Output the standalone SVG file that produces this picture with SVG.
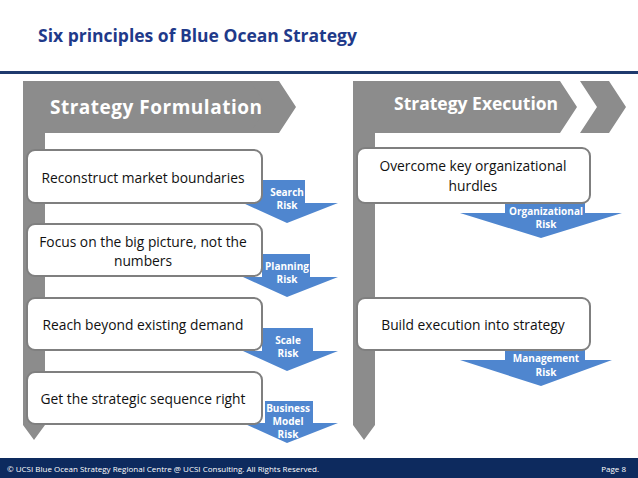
<svg xmlns="http://www.w3.org/2000/svg" width="638" height="478" viewBox="0 0 638 478">
<style>
.bar{fill:#8c8c8c}
.box{fill:#fff;stroke:#7f7f7f;stroke-width:2}
.bt{font-family:"Open Sans","Liberation Sans",sans-serif;font-size:13.8px;fill:#111;text-anchor:middle}
.hd{font-family:"Open Sans","Liberation Sans",sans-serif;font-size:17.5px;font-weight:bold;fill:#fff}
.ar{fill:#4f86cf}
.at{font-family:"Open Sans","Liberation Sans",sans-serif;font-size:10px;font-weight:bold;fill:#fff;text-anchor:middle}
</style>
<rect width="638" height="478" fill="#fff"/>
<text x="38" y="42" font-family="'Open Sans','Liberation Sans',sans-serif" font-size="17.5" font-weight="bold" fill="#1f3a8a">Six principles of Blue Ocean Strategy</text>
<rect x="0" y="71" width="638" height="3" fill="#1f3a6e"/>
<g id="formulation">
<polygon class="bar" points="23,81 260,81 277,107 260,133 45,133 45,425 34,440 23,425"/>
<polygon class="bar" points="250,81 279,81 296,107 279,133 250,133 267,107"/>
<text class="hd" x="50" y="114" style="font-size:19px" textLength="212">Strategy Formulation</text>
</g>
<g id="execution">
<polygon class="bar" points="353,81 560,81 577,107 560,133 375,133 375,425 364,440 353,425"/>
<polygon class="bar" points="580,81 609,81 626,107 609,133 580,133 597,107"/>
<text class="hd" x="394" y="110">Strategy Execution</text>
</g>
<g id="connectors">
<polygon class="ar" points="258,180 305,180 305,203 338,203 287,223 243,203 258,203"/>
<polygon class="ar" points="262,254 310,254 310,277 338,277 287,297 243,277 262,277"/>
<polygon class="ar" points="262,328 313,328 313,351 338,351 287,371 243,351 262,351"/>
<polygon class="ar" points="265,401 313,401 313,423 338,423 287,443 243,423 265,423"/>
<polygon class="ar" points="505,203 585,203 585,213 622,213 541,238 460,213 505,213"/>
<polygon class="ar" points="505,350 585,350 585,360 612,360 541,386 460,360 505,360"/>
</g>
<g id="n1"><rect class="box" x="27" y="150" width="235" height="53" rx="8"/><text class="bt" x="143" y="183">Reconstruct market boundaries</text></g>
<g id="n2"><rect class="box" x="27" y="224" width="235" height="52" rx="8"/><text class="bt" x="143" y="247">Focus on the big picture, not the</text><text class="bt" x="143" y="266">numbers</text></g>
<g id="n3"><rect class="box" x="27" y="298" width="235" height="52" rx="8"/><text class="bt" x="143" y="330">Reach beyond existing demand</text></g>
<g id="n4"><rect class="box" x="27" y="372" width="235" height="52" rx="8"/><text class="bt" x="143" y="404">Get the strategic sequence right</text></g>
<g id="n5"><rect class="box" x="357" y="148" width="233" height="55" rx="8"/><text class="bt" x="473" y="171">Overcome key organizational</text><text class="bt" x="473" y="191">hurdles</text></g>
<g id="n6"><rect class="box" x="357" y="298" width="233" height="52" rx="8"/><text class="bt" x="473" y="330">Build execution into strategy</text></g>
<g id="labels">
<text class="at" x="287" y="196">Search</text><text class="at" x="287" y="209">Risk</text>
<text class="at" x="287" y="270">Planning</text><text class="at" x="287" y="283">Risk</text>
<text class="at" x="288" y="344">Scale</text><text class="at" x="288" y="357">Risk</text>
<text class="at" x="288" y="412">Business</text><text class="at" x="288" y="425">Model</text><text class="at" x="288" y="438">Risk</text>
<text class="at" x="546" y="215">Organizational</text><text class="at" x="546" y="228">Risk</text>
<text class="at" x="546" y="362">Management</text><text class="at" x="546" y="376">Risk</text>
</g>
<rect x="0" y="458" width="638" height="20" fill="#0d2a5e"/>
<text x="7" y="472" font-family="'Open Sans','Liberation Sans',sans-serif" font-size="8" fill="#fff">© UCSI Blue Ocean Strategy Regional Centre @ UCSI Consulting. All Rights Reserved.</text>
<text x="626" y="472" font-family="'Open Sans','Liberation Sans',sans-serif" font-size="8" fill="#fff" text-anchor="end">Page 8</text>
</svg>
